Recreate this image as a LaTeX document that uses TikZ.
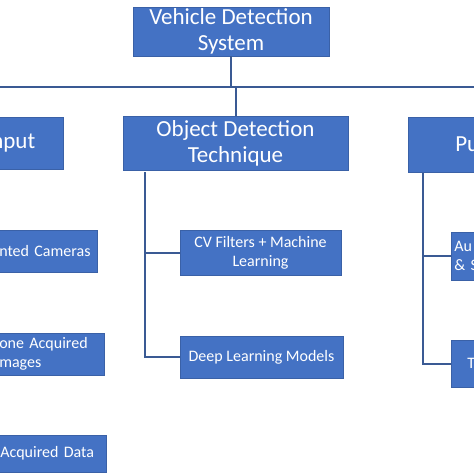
\documentclass[tikz,border=0pt]{standalone}
\usepackage{fontspec}
\setmainfont{Carlito}
\usepackage{tikz}
\usetikzlibrary{arrows}
\definecolor{boxblue}{HTML}{4472C4}
\definecolor{linkblue}{HTML}{3A5A94}

\begin{document}
\begin{tikzpicture}[x=1pt,y=-1pt]
  \tikzstyle{box}=[fill=boxblue,draw=boxblue!85!black,line width=0.6pt,text=white,inner sep=0pt,align=center]
  \tikzstyle{big}=[box,font=\fontsize{23}{26}\selectfont]
  \tikzstyle{small}=[box,font=\fontsize{16}{19}\selectfont]
  \tikzstyle{cut}=[small,align=left,anchor=west]
  \tikzstyle{link}=[draw=linkblue,line width=2pt]
  \useasboundingbox (0,0) rectangle (474,474);
  \clip (0,0) rectangle (474,474);
  % top level
  \path (231,31.5) node[big,minimum width=196,minimum height=49] (vds) {Vehicle Detection\\System};
  \path (235.5,143) node[big,minimum width=225,minimum height=54] (odt) {Object Detection\\Technique};
  \path (-13,143) node[cut,font=\fontsize{23}{26}\selectfont,text width=68,inner xsep=4,minimum height=52] (inp) {nput};
  \path (408,144.5) node[cut,font=\fontsize{23}{26}\selectfont,text width=60,inner xsep=47,minimum height=55] (pur) {Pu};
  % left column
  \path (-5,251) node[cut,text width=94,inner xsep=4,minimum height=42] (cam) {nted Cameras};
  \path (-5,354) node[cut,text width=101,inner xsep=4,minimum height=42] (drn) {one Acquired\\mages};
  \path (-4,453.5) node[cut,text width=102,inner xsep=4,minimum height=37] (acq) {Acquired Data};
  % middle column
  \path (260.5,252.5) node[small,minimum width=161,minimum height=45] (cv) {CV Filters + Machine\\Learning};
  \path (261.5,357) node[small,minimum width=163,minimum height=42] (dl) {Deep Learning Models};
  % right column
  \path (451,256) node[cut,text width=60,inner xsep=3,minimum height=48] (au) {Au\\\& S};
  \path (451,363.5) node[cut,text width=40,inner xsep=16,minimum height=47] (tt) {T};
  % connectors
  \coordinate (busL) at (-5,87);
  \coordinate (busR) at (480,87);
  \coordinate (odtbus) at (145,172);
  \coordinate (purbus) at (423,173);
  \draw[link] (busL) -- (busR);
  \draw[link] (vds.south) -- (vds.south |- busL);
  \draw[link] (odt.north) -- (odt.north |- busL);
  \draw[link] (odtbus) |- (cv.west);
  \draw[link] (odtbus) |- (dl.west);
  \draw[link] (purbus) |- (au.west);
  \draw[link] (purbus) |- (tt.west);
\end{tikzpicture}
\end{document}
